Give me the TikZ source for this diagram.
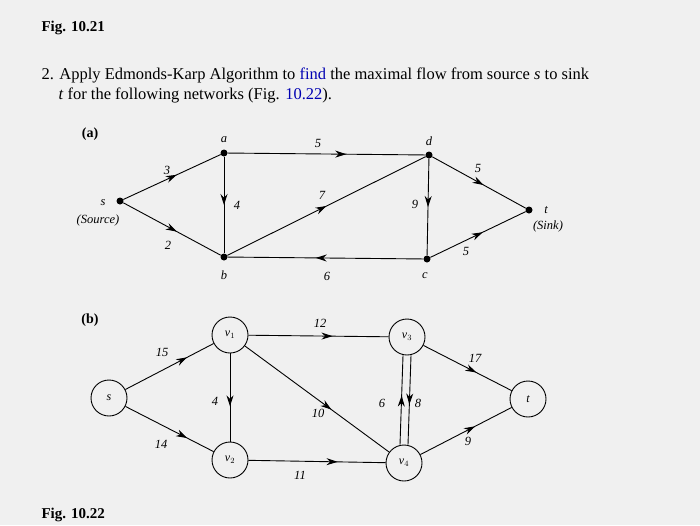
\documentclass[tikz,border=0pt]{standalone}
\usepackage{fontspec}
\setmainfont{Liberation Serif}
\usetikzlibrary{decorations.markings,arrows.meta}
\begin{document}
\begin{tikzpicture}[x=1pt,y=-1pt,
  dotn/.style={circle,fill=black,inner sep=0pt,minimum size=7pt},
  cn/.style={circle,draw,line width=0.9pt,minimum size=36pt,inner sep=0pt,font=\itshape\fontsize{12}{14}\selectfont},
  edge/.style={line width=0.9pt,postaction={decorate},decoration={markings,mark=at position #1 with {\arrow{Stealth[length=11pt,width=7pt]}}}},
  edge/.default=0.6,
  lab/.style={font=\itshape\fontsize{12.5}{14}\selectfont},
  every node/.append style={text=black}]
\fill[black!6] (0,0) rectangle (700,525);
\useasboundingbox (0,0) rectangle (700,525);
\node[anchor=west,font=\bfseries\fontsize{15}{18}\selectfont] (f1) at (38,28) {Fig. 10.21};
\node[anchor=west,font=\fontsize{16.5}{19}\selectfont] (l1) at (38,75) {2. Apply Edmonds-Karp Algorithm to \textcolor{blue!70!black}{find} the maximal flow from source \textit{s} to sink};
\node[anchor=west,font=\fontsize{16.5}{19}\selectfont] (l2) at (55,95) {\textit{t} for the following networks (Fig. \textcolor{blue!70!black}{10.22}).};
\node[anchor=west,font=\bfseries\fontsize{15}{18}\selectfont] (f2) at (38,515) {Fig. 10.22};
\node[font=\bfseries\fontsize{14}{16}\selectfont] (pa) at (90,134) {(a)};
\node[font=\bfseries\fontsize{14}{16}\selectfont] (pb) at (90,320) {(b)};
% (a)
\node[dotn] (s) at (120,201) {};
\node[dotn] (a) at (224,153) {};
\node[dotn] (d) at (429,155) {};
\node[dotn] (b) at (224,257) {};
\node[dotn] (c) at (427,259) {};
\node[dotn] (t) at (529,210) {};
\node[lab] at (103,203) {s};
\node[lab] at (98,220) {(Source)};
\node[lab] at (224,140) {a};
\node[lab] at (429,141) {d};
\node[lab] at (224,275) {b};
\node[lab] at (425,276) {c};
\node[lab] at (546,210) {t};
\node[lab] at (548,226) {(Sink)};
\draw[edge=0.55] (s) -- (a);
\draw[edge=0.55] (s) -- (b);
\draw[edge=0.6] (a) -- (d);
\draw[edge=0.5] (a) -- (b);
\draw[edge=0.5] (b) -- (d);
\draw[edge=0.5] (d) -- (c);
\draw[edge=0.55] (c) -- (b);
\draw[edge=0.55] (d) -- (t);
\draw[edge=0.55] (c) -- (t);
\node[lab] at (167,170) {3};
\node[lab] at (168,245) {2};
\node[lab] at (318,143) {5};
\node[lab] at (237,205) {4};
\node[lab] at (322,195) {7};
\node[lab] at (415,204) {9};
\node[lab] at (327,276) {6};
\node[lab] at (478,168) {5};
\node[lab] at (466,251) {5};
% (b)
\node[cn] (S) at (109,398) {s};
\node[cn] (V1) at (230,335) {v$_1$};
\node[cn] (V3) at (407,337) {v$_3$};
\node[cn] (T) at (528,399) {t};
\node[cn] (V2) at (230,460) {v$_2$};
\node[cn] (V4) at (404,463) {v$_4$};
\draw[edge=0.7] (S) -- (V1);
\draw[edge=0.7] (S) -- (V2);
\draw[edge=0.6] (V1) -- (V3);
\draw[edge=0.6] (V1) -- (V2);
\draw[edge=0.6] (V1) -- (V4);
\draw[edge=0.65] (V2) -- (V4);
\draw[edge=0.6] (V3) -- (T);
\draw[edge=0.6] (V4) -- (T);
\draw[edge=0.55] ([xshift=-4pt]V4.north) -- ([xshift=-4pt]V3.south);
\draw[edge=0.55] ([xshift=4pt]V3.south) -- ([xshift=4pt]V4.north);
\node[lab] at (162,352) {15};
\node[lab] at (161,444) {14};
\node[lab] at (320,323) {12};
\node[lab] at (215,401) {4};
\node[lab] at (318,413) {10};
\node[lab] at (382,403) {6};
\node[lab] at (418,403) {8};
\node[lab] at (475,358) {17};
\node[lab] at (468,441) {9};
\node[lab] at (300,475) {11};
\end{tikzpicture}
\end{document}
